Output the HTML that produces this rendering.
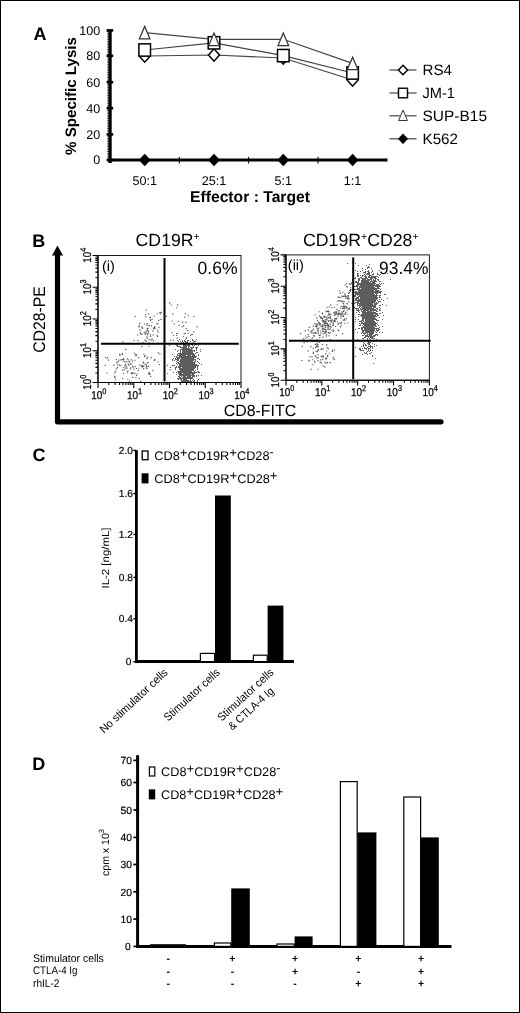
<!DOCTYPE html>
<html lang="en"><head><meta charset="utf-8"><title>Figure</title>
<style>html,body{margin:0;padding:0;background:#fff}svg{display:block}svg text{font-family:"Liberation Sans",Arial,Helvetica,sans-serif}</style>
</head><body>
<svg width="520" height="1013" viewBox="0 0 520 1013" fill="#000" text-rendering="geometricPrecision">
<rect x="0" y="0" width="520" height="1013" fill="#fff"/>
<g id="panelA">
<text x="33.4" y="40" font-size="18" font-weight="bold">A</text>
<line x1="110" y1="29.8" x2="110" y2="163" stroke="#000" stroke-width="3.4"/>
<line x1="108.5" y1="160" x2="387.5" y2="160" stroke="#000" stroke-width="3.2"/>
<line x1="107.9" y1="31" x2="107.9" y2="160" stroke="#000" stroke-width="1" stroke-dasharray="1.3 1.25"/>
<line x1="106.6" y1="160.00" x2="113.2" y2="160.00" stroke="#000" stroke-width="2.6"/>
<text x="100.3" y="164.3" font-size="12.6" text-anchor="end">0</text>
<line x1="106.6" y1="134.40" x2="113.2" y2="134.40" stroke="#000" stroke-width="2.6"/>
<text x="100.3" y="138.7" font-size="12.6" text-anchor="end">20</text>
<line x1="106.6" y1="108.20" x2="113.2" y2="108.20" stroke="#000" stroke-width="2.6"/>
<text x="100.3" y="112.5" font-size="12.6" text-anchor="end">40</text>
<line x1="106.6" y1="82.20" x2="113.2" y2="82.20" stroke="#000" stroke-width="2.6"/>
<text x="100.3" y="86.5" font-size="12.6" text-anchor="end">60</text>
<line x1="106.6" y1="55.80" x2="113.2" y2="55.80" stroke="#000" stroke-width="2.6"/>
<text x="100.3" y="60.1" font-size="12.6" text-anchor="end">80</text>
<line x1="106.6" y1="30.40" x2="113.2" y2="30.40" stroke="#000" stroke-width="2.6"/>
<text x="100.3" y="34.7" font-size="12.6" text-anchor="end">100</text>
<line x1="179.3" y1="156.8" x2="179.3" y2="163.6" stroke="#000" stroke-width="1"/>
<line x1="248.6" y1="156.8" x2="248.6" y2="163.6" stroke="#000" stroke-width="1"/>
<line x1="318" y1="156.8" x2="318" y2="163.6" stroke="#000" stroke-width="1"/>
<text x="144.7" y="185.2" font-size="12.6" text-anchor="middle">50:1</text>
<text x="214" y="185.2" font-size="12.6" text-anchor="middle">25:1</text>
<text x="283.3" y="185.2" font-size="12.6" text-anchor="middle">5:1</text>
<text x="352.6" y="185.2" font-size="12.6" text-anchor="middle">1:1</text>
<text x="250" y="202.2" font-size="15.6" font-weight="bold" text-anchor="middle" textLength="120" lengthAdjust="spacingAndGlyphs">Effector : Target</text>
<text x="76.4" y="96" font-size="15.2" font-weight="bold" text-anchor="middle" textLength="118" lengthAdjust="spacingAndGlyphs" transform="rotate(-90 76.4 96)">% Specific Lysis</text>
<polyline points="144.7,56 214,55 283.3,58 352.6,80" fill="none" stroke="#444" stroke-width="1.2"/>
<polyline points="144.7,50 214,42.8 283.3,55.6 352.6,73" fill="none" stroke="#444" stroke-width="1.2"/>
<polyline points="144.7,32.6 214,39.3 283.3,39.3 352.6,63.4" fill="none" stroke="#444" stroke-width="1.2"/>
<polygon points="144.7,49.8 150.2,56 144.7,62.2 139.2,56" fill="#fff" stroke="#000" stroke-width="1.5"/>
<polygon points="214,48.8 219.5,55 214,61.2 208.5,55" fill="#fff" stroke="#000" stroke-width="1.5"/>
<polygon points="283.3,51.8 288.8,58 283.3,64.2 277.8,58" fill="#fff" stroke="#000" stroke-width="1.5"/>
<polygon points="352.6,73.8 358.1,80 352.6,86.2 347.1,80" fill="#fff" stroke="#000" stroke-width="1.5"/>
<rect x="138.89999999999998" y="43.85" width="11.6" height="12.30" fill="#fff" stroke="#000" stroke-width="1.5"/>
<rect x="208.2" y="36.65" width="11.6" height="12.30" fill="#fff" stroke="#000" stroke-width="1.5"/>
<rect x="277.5" y="49.45" width="11.6" height="12.30" fill="#fff" stroke="#000" stroke-width="1.5"/>
<rect x="346.8" y="66.85" width="11.6" height="12.30" fill="#fff" stroke="#000" stroke-width="1.5"/>
<polygon points="144.7,26.400000000000002 150.0,38.800000000000004 139.39999999999998,38.800000000000004" fill="#fff" stroke="#333" stroke-width="1.25"/>
<polygon points="214,33.099999999999994 219.3,45.5 208.7,45.5" fill="#fff" stroke="#333" stroke-width="1.25"/>
<polygon points="283.3,33.099999999999994 288.6,45.5 278.0,45.5" fill="#fff" stroke="#333" stroke-width="1.25"/>
<polygon points="352.6,57.199999999999996 357.90000000000003,69.6 347.3,69.6" fill="#fff" stroke="#333" stroke-width="1.25"/>
<polygon points="144.7,153.9 150.29999999999998,160 144.7,166.1 139.1,160" fill="#000" stroke="#000" stroke-width="0.5"/>
<polygon points="214,153.9 219.6,160 214,166.1 208.4,160" fill="#000" stroke="#000" stroke-width="0.5"/>
<polygon points="283.3,153.9 288.90000000000003,160 283.3,166.1 277.7,160" fill="#000" stroke="#000" stroke-width="0.5"/>
<polygon points="352.6,153.9 358.20000000000005,160 352.6,166.1 347.0,160" fill="#000" stroke="#000" stroke-width="0.5"/>
<line x1="389.5" y1="70" x2="416.5" y2="70" stroke="#444" stroke-width="1.2"/>
<line x1="389.5" y1="93" x2="416.5" y2="93" stroke="#444" stroke-width="1.2"/>
<line x1="389.5" y1="115.8" x2="416.5" y2="115.8" stroke="#444" stroke-width="1.2"/>
<line x1="389.5" y1="138.8" x2="416.5" y2="138.8" stroke="#444" stroke-width="1.2"/>
<polygon points="403,65.2 407.6,70 403,74.8 398.4,70" fill="#fff" stroke="#000" stroke-width="1.4"/>
<rect x="398.5" y="88.23" width="9.0" height="9.54" fill="#fff" stroke="#000" stroke-width="1.4"/>
<polygon points="403,110.1 407.4,120.5 398.6,120.5" fill="#fff" stroke="#333" stroke-width="1"/>
<polygon points="403,133.8 407.8,138.8 403,143.8 398.2,138.8" fill="#000" stroke="#000" stroke-width="0.5"/>
<text x="422.5" y="74.9" font-size="15" textLength="29.5" lengthAdjust="spacingAndGlyphs">RS4</text>
<text x="422.5" y="97.9" font-size="15" textLength="32.5" lengthAdjust="spacingAndGlyphs">JM-1</text>
<text x="422.5" y="120.7" font-size="15" textLength="64.5" lengthAdjust="spacingAndGlyphs">SUP-B15</text>
<text x="422.5" y="143.7" font-size="15" textLength="35.5" lengthAdjust="spacingAndGlyphs">K562</text>
</g>
<g id="panelB">
<text x="32.2" y="247" font-size="18" font-weight="bold">B</text>
<path d="M57.5 254 V421.8 H441" fill="none" stroke="#000" stroke-width="5.2" stroke-linecap="round" stroke-linejoin="round"/>
<polygon points="57.5,245.5 63,255.5 52,255.5" fill="#000"/>
<text x="45.2" y="319.5" font-size="16.8" text-anchor="middle" textLength="66.6" lengthAdjust="spacingAndGlyphs" transform="rotate(-90 45.2 319.5)">CD28-PE</text>
<text x="223.8" y="415.6" font-size="16.3" textLength="72.3" lengthAdjust="spacingAndGlyphs">CD8-FITC</text>
<text x="135.6" y="246.2" font-size="17.7">CD19R<tspan font-size="10.5" dy="-6">+</tspan></text>
<text x="303" y="246.2" font-size="17.7">CD19R<tspan font-size="10.5" dy="-6">+</tspan><tspan dy="6">CD28</tspan><tspan font-size="10.5" dy="-6">+</tspan></text>
<clipPath id="clip1"><rect x="98.5" y="256.0" width="142" height="126"/></clipPath>
<g clip-path="url(#clip1)">
<path d="M187 330.5h1M176 333.5h2M185 333.5h1M188 333.5h1M191 334.5h2M173 335.5h1M176 335.5h1M190 335.5h1M183 336.5h1M186 337.5h1M186 338.5h1M179 339.5h1M185 339.5h1M192 339.5h1M196 339.5h1M173 340.5h1M177 340.5h1M182 340.5h1M184 340.5h1M187 340.5h2M192 340.5h2M178 341.5h1M180 341.5h1M182 341.5h1M184 341.5h2M187 341.5h1M190 341.5h1M194 341.5h2M183 342.5h1M185 342.5h3M193 342.5h1M179 343.5h1M182 343.5h1M184 343.5h2M187 343.5h1M189 343.5h1M193 343.5h1M177 344.5h1M179 344.5h1M183 344.5h3M188 344.5h1M190 344.5h3M195 344.5h2M169 345.5h1M176 345.5h2M183 345.5h7M192 345.5h1M194 345.5h1M198 345.5h1M177 346.5h4M183 346.5h4M188 346.5h2M193 346.5h1M181 347.5h6M188 347.5h1M190 347.5h2M193 347.5h1M195 347.5h3M182 348.5h8M191 348.5h2M196 348.5h1M175 349.5h1M180 349.5h12M196 349.5h1M200 349.5h1M178 350.5h1M180 350.5h1M182 350.5h13M196 350.5h1M177 351.5h1M180 351.5h1M182 351.5h11M194 351.5h1M200 351.5h1M180 352.5h1M182 352.5h11M196 352.5h2M178 353.5h16M195 353.5h1M172 354.5h1M177 354.5h1M179 354.5h16M198 354.5h1M177 355.5h9M187 355.5h4M192 355.5h3M198 355.5h1M174 356.5h1M176 356.5h1M179 356.5h18M176 357.5h20M173 358.5h1M175 358.5h1M177 358.5h3M181 358.5h13M197 358.5h2M172 359.5h1M175 359.5h4M180 359.5h16M199 359.5h1M172 360.5h1M174 360.5h1M177 360.5h2M180 360.5h14M195 360.5h1M176 361.5h1M179 361.5h14M194 361.5h2M197 361.5h1M177 362.5h2M180 362.5h15M198 362.5h1M176 363.5h1M178 363.5h17M199 363.5h1M177 364.5h1M179 364.5h18M201 364.5h1M172 365.5h3M179 365.5h20M176 366.5h1M178 366.5h18M197 366.5h1M175 367.5h2M178 367.5h3M182 367.5h14M197 367.5h1M175 368.5h1M179 368.5h16M197 368.5h1M175 369.5h1M179 369.5h15M197 369.5h1M180 370.5h14M195 370.5h1M177 371.5h15M194 371.5h1M197 371.5h2M173 372.5h1M176 372.5h1M178 372.5h19M198 372.5h2M167 373.5h1M178 373.5h4M183 373.5h12M176 374.5h1M179 374.5h12M192 374.5h2M179 375.5h16M196 375.5h1M198 375.5h1M201 375.5h1M178 376.5h2M181 376.5h1M183 376.5h3M187 376.5h4M192 376.5h3M196 376.5h1M179 377.5h2M182 377.5h11M177 378.5h16M178 379.5h1M180 379.5h2M183 379.5h4M190 379.5h1M193 379.5h1M198 379.5h1M181 380.5h8M190 380.5h1M192 380.5h1M194 380.5h1M197 380.5h1M181 381.5h11M193 381.5h2M197 381.5h1M181 382.5h6M188 382.5h1M190 382.5h2M193 382.5h2M179 383.5h1M181 383.5h1M185 383.5h4M190 383.5h2M182 384.5h4M187 384.5h4M192 384.5h1M195 384.5h1M199 384.5h1M174 385.5h1M176 385.5h1M180 385.5h2M184 385.5h3M188 385.5h1M190 385.5h1M194 385.5h1M173 386.5h1M182 386.5h1M184 386.5h3M189 386.5h1M184 387.5h6M192 387.5h1M194 387.5h1M197 387.5h1M180 388.5h3M185 388.5h1M190 388.5h1M182 389.5h1M185 389.5h1M177 390.5h1M186 390.5h2M178 391.5h1M187 391.5h1M193 391.5h1M177 392.5h1M183 392.5h1M187 392.5h2M190 392.5h1M194 392.5h1M185 393.5h1M178 395.5h1M187 395.5h1M195 397.5h1M193 402.5h1" stroke="#5e5e5e" stroke-width="1.0" fill="none" shape-rendering="crispEdges"/>
<path d="M157.4 332.1h1.2M140.1 333.8h1.2M160.3 319.3h1.2M150.6 339.9h1.2M153.1 328.6h1.2M158.4 327.1h1.2M149.9 336.4h1.2M144.6 334.3h1.2M146.6 323.6h1.2M139.1 323.3h1.2M150.9 325.8h1.2M156.3 335.2h1.2M137.4 340.6h1.2M145.4 332.3h1.2M158.0 320.3h1.2M171.5 321.2h1.2M147.7 331.3h1.2M147.0 334.7h1.2M149.2 317.5h1.2M148.5 339.6h1.2M132.9 344.3h1.2M148.7 325.6h1.2M141.9 328.4h1.2M160.7 312.4h1.2M145.2 316.8h1.2M149.9 334.7h1.2M154.1 327.3h1.2M150.0 320.5h1.2M159.3 312.6h1.2M156.6 313.7h1.2M143.7 332.5h1.2M147.9 313.8h1.2M139.7 333.7h1.2M134.5 316.3h1.2M156.9 336.5h1.2M149.9 317.4h1.2M149.6 319.2h1.2M151.5 319.4h1.2M159.8 314.0h1.2M157.0 330.2h1.2M154.1 326.6h1.2M154.4 328.5h1.2M141.2 327.1h1.2M147.3 328.3h1.2M142.3 342.6h1.2M146.6 333.6h1.2M144.7 333.9h1.2M145.0 314.7h1.2M148.6 343.0h1.2M151.5 322.2h1.2M133.3 340.5h1.2M144.5 340.4h1.2M156.3 324.1h1.2M146.5 338.2h1.2M138.3 326.9h1.2M146.9 330.4h1.2M146.8 328.4h1.2M143.9 324.0h1.2M145.6 331.4h1.2M141.7 327.9h1.2M152.6 335.0h1.2M141.4 334.4h1.2M146.5 336.8h1.2M145.7 310.1h1.2M139.4 329.9h1.2M151.6 339.1h1.2M148.0 332.9h1.2M138.6 325.9h1.2M146.7 329.0h1.2M152.8 328.0h1.2M153.5 316.0h1.2M141.3 346.6h1.2M136.9 335.0h1.2M146.5 325.4h1.2M152.8 340.9h1.2M145.7 341.3h1.2M139.8 332.2h1.2M157.3 323.5h1.2M152.2 330.8h1.2M148.4 346.2h1.2M126.2 361.8h1.2M126.3 368.1h1.2M148.0 366.4h1.2M122.0 370.1h1.2M143.3 354.0h1.2M143.9 356.6h1.2M154.3 359.2h1.2M114.2 372.8h1.2M133.4 369.0h1.2M146.0 366.1h1.2M130.7 373.6h1.2M131.0 364.0h1.2M126.7 358.8h1.2M146.7 368.2h1.2M132.0 361.3h1.2M125.1 349.3h1.2M137.0 383.8h1.2M132.0 373.7h1.2M128.6 361.6h1.2M115.1 371.3h1.2M130.0 369.1h1.2M133.9 353.4h1.2M134.3 373.4h1.2M136.0 375.5h1.2M143.9 356.7h1.2M134.8 354.7h1.2M123.9 369.7h1.2M148.7 372.8h1.2M130.2 367.7h1.2M114.8 379.2h1.2M123.1 359.6h1.2M152.3 370.6h1.2M124.9 364.2h1.2M119.2 354.3h1.2M141.2 384.1h1.2M93.4 355.9h1.2M132.1 377.3h1.2M124.4 365.3h1.2M135.9 368.5h1.2M157.7 352.7h1.2M145.6 368.1h1.2M118.3 360.1h1.2M115.8 359.6h1.2M132.5 367.2h1.2M122.2 341.8h1.2M159.3 353.9h1.2M127.2 379.2h1.2M129.9 363.8h1.2M123.2 367.6h1.2M130.7 359.9h1.2M116.1 362.6h1.2M107.0 357.8h1.2M148.0 373.6h1.2M125.7 366.4h1.2M143.0 363.0h1.2M124.4 361.7h1.2M150.1 376.3h1.2M149.0 373.4h1.2M141.3 365.0h1.2M143.0 368.8h1.2M166.4 382.2h1.2M138.2 369.0h1.2M179.0 373.5h1.2M127.7 364.1h1.2M145.7 366.6h1.2M128.9 381.1h1.2M134.3 360.2h1.2M142.1 366.1h1.2M137.4 370.7h1.2M135.4 377.7h1.2M106.3 373.0h1.2M137.9 357.6h1.2M116.8 367.6h1.2M145.4 364.6h1.2M125.1 368.0h1.2M150.6 357.6h1.2M121.7 353.6h1.2M114.3 376.3h1.2M132.1 366.3h1.2M121.8 354.3h1.2M117.5 361.6h1.2M128.5 365.4h1.2M107.9 360.1h1.2M142.0 366.8h1.2M119.0 365.1h1.2M129.0 361.8h1.2M120.3 359.9h1.2M135.9 354.9h1.2M127.8 360.0h1.2M142.6 362.2h1.2M123.3 361.2h1.2M144.5 355.6h1.2M105.2 357.6h1.2M142.6 362.0h1.2M131.0 373.0h1.2M132.3 372.6h1.2M149.3 374.5h1.2M114.1 377.3h1.2M143.1 366.4h1.2M157.4 362.0h1.2M166.6 365.3h1.2M146.3 358.6h1.2M139.1 365.0h1.2M115.7 368.7h1.2M135.4 355.6h1.2M140.2 381.4h1.2M113.4 365.4h1.2M169.8 367.5h1.2M169.6 369.9h1.2M121.7 359.6h1.2M122.9 358.8h1.2M154.0 360.4h1.2M145.7 366.7h1.2M122.2 378.5h1.2M126.9 372.7h1.2M147.6 362.5h1.2M127.2 371.1h1.2M140.8 366.3h1.2M138.6 378.6h1.2M144.4 364.0h1.2M134.5 366.6h1.2M158.8 364.5h1.2M146.8 357.1h1.2M120.5 365.7h1.2M123.1 373.5h1.2M136.3 374.0h1.2M146.9 362.8h1.2M117.1 364.9h1.2M104.6 365.4h1.2M119.4 355.5h1.2M193.1 316.7h1.2M176.9 304.8h1.2M171.5 332.7h1.2M179.6 347.3h1.2M184.8 313.7h1.2M169.0 302.8h1.2M176.7 338.1h1.2M187.8 315.7h1.2M185.7 328.5h1.2M187.5 330.5h1.2M193.1 331.9h1.2M181.6 326.6h1.2M183.1 325.9h1.2M182.0 322.3h1.2M170.3 340.1h1.2M184.0 317.2h1.2M196.5 326.9h1.2M170.7 305.0h1.2M176.2 307.7h1.2M172.2 313.8h1.2M178.1 321.2h1.2M181.1 342.7h1.2M185.3 322.4h1.2M183.6 333.8h1.2M165.7 316.3h1.2M191.8 347.8h1.2M178.4 325.4h1.2M173.6 323.8h1.2" stroke="#555" stroke-width="1.15" fill="none"/>
</g>
<rect x="98" y="255.5" width="143" height="127" fill="none" stroke="#1a1a1a" stroke-width="1"/>
<line x1="98" y1="255.5" x2="98" y2="382.5" stroke="#000" stroke-width="1.1"/>
<line x1="98" y1="382.5" x2="241" y2="382.5" stroke="#000" stroke-width="1.1"/>
<path d="M98.00 382.5v5.4M98 382.50h-5.4M108.76 382.5v2.6M98 372.94h-2.6M115.06 382.5v2.6M98 367.35h-2.6M119.52 382.5v2.6M98 363.38h-2.6M122.99 382.5v2.6M98 360.31h-2.6M125.82 382.5v2.6M98 357.79h-2.6M128.21 382.5v2.6M98 355.67h-2.6M130.29 382.5v2.6M98 353.83h-2.6M132.11 382.5v2.6M98 352.20h-2.6M133.75 382.5v5.4M98 350.75h-5.4M144.51 382.5v2.6M98 341.19h-2.6M150.81 382.5v2.6M98 335.60h-2.6M155.27 382.5v2.6M98 331.63h-2.6M158.74 382.5v2.6M98 328.56h-2.6M161.57 382.5v2.6M98 326.04h-2.6M163.96 382.5v2.6M98 323.92h-2.6M166.04 382.5v2.6M98 322.08h-2.6M167.86 382.5v2.6M98 320.45h-2.6M169.50 382.5v5.4M98 319.00h-5.4M180.26 382.5v2.6M98 309.44h-2.6M186.56 382.5v2.6M98 303.85h-2.6M191.02 382.5v2.6M98 299.88h-2.6M194.49 382.5v2.6M98 296.81h-2.6M197.32 382.5v2.6M98 294.29h-2.6M199.71 382.5v2.6M98 292.17h-2.6M201.79 382.5v2.6M98 290.33h-2.6M203.61 382.5v2.6M98 288.70h-2.6M205.25 382.5v5.4M98 287.25h-5.4M216.01 382.5v2.6M98 277.69h-2.6M222.31 382.5v2.6M98 272.10h-2.6M226.77 382.5v2.6M98 268.13h-2.6M230.24 382.5v2.6M98 265.06h-2.6M233.07 382.5v2.6M98 262.54h-2.6M235.46 382.5v2.6M98 260.42h-2.6M237.54 382.5v2.6M98 258.58h-2.6M239.36 382.5v2.6M98 256.95h-2.6M241.00 382.5v5.4M98 255.50h-5.4" stroke="#000" stroke-width="1.1" fill="none"/>
<text x="91.2" y="398.9" font-size="11.4" textLength="15.2" lengthAdjust="spacingAndGlyphs" stroke="#000" stroke-width="0.25">10<tspan font-size="8.4" dy="-4.8">0</tspan></text>
<text x="90.6" y="389.7" font-size="11.4" textLength="15" lengthAdjust="spacingAndGlyphs" stroke="#000" stroke-width="0.25" transform="rotate(-90 90.6 389.7)">10<tspan font-size="8.4" dy="-4.2">0</tspan></text>
<text x="127.0" y="398.9" font-size="11.4" textLength="15.2" lengthAdjust="spacingAndGlyphs" stroke="#000" stroke-width="0.25">10<tspan font-size="8.4" dy="-4.8">1</tspan></text>
<text x="90.6" y="357.9" font-size="11.4" textLength="15" lengthAdjust="spacingAndGlyphs" stroke="#000" stroke-width="0.25" transform="rotate(-90 90.6 357.9)">10<tspan font-size="8.4" dy="-4.2">1</tspan></text>
<text x="162.7" y="398.9" font-size="11.4" textLength="15.2" lengthAdjust="spacingAndGlyphs" stroke="#000" stroke-width="0.25">10<tspan font-size="8.4" dy="-4.8">2</tspan></text>
<text x="90.6" y="326.2" font-size="11.4" textLength="15" lengthAdjust="spacingAndGlyphs" stroke="#000" stroke-width="0.25" transform="rotate(-90 90.6 326.2)">10<tspan font-size="8.4" dy="-4.2">2</tspan></text>
<text x="198.5" y="398.9" font-size="11.4" textLength="15.2" lengthAdjust="spacingAndGlyphs" stroke="#000" stroke-width="0.25">10<tspan font-size="8.4" dy="-4.8">3</tspan></text>
<text x="90.6" y="294.4" font-size="11.4" textLength="15" lengthAdjust="spacingAndGlyphs" stroke="#000" stroke-width="0.25" transform="rotate(-90 90.6 294.4)">10<tspan font-size="8.4" dy="-4.2">3</tspan></text>
<text x="234.2" y="398.9" font-size="11.4" textLength="15.2" lengthAdjust="spacingAndGlyphs" stroke="#000" stroke-width="0.25">10<tspan font-size="8.4" dy="-4.8">4</tspan></text>
<text x="90.6" y="262.7" font-size="11.4" textLength="15" lengthAdjust="spacingAndGlyphs" stroke="#000" stroke-width="0.25" transform="rotate(-90 90.6 262.7)">10<tspan font-size="8.4" dy="-4.2">4</tspan></text>
<line x1="164.5" y1="258.0" x2="164.5" y2="381.5" stroke="#000" stroke-width="2"/>
<line x1="101" y1="343.8" x2="238.8" y2="343.8" stroke="#000" stroke-width="2"/>
<text x="101.9" y="270.6" font-size="14.5">(i)</text>
<text x="237.6" y="274.3" font-size="17.8" text-anchor="end" textLength="40" lengthAdjust="spacingAndGlyphs">0.6%</text>
<clipPath id="clip2"><rect x="286.5" y="255.4" width="142.4" height="124.3"/></clipPath>
<g clip-path="url(#clip2)">
<path d="M347 263.5h1M355 263.5h1M369 264.5h1M358 265.5h1M366 265.5h1M368 266.5h1M367 267.5h3M362 268.5h1M367 268.5h1M371 268.5h1M365 269.5h1M355 270.5h1M362 270.5h1M368 270.5h1M372 270.5h1M379 270.5h1M357 271.5h1M360 271.5h1M365 271.5h1M367 271.5h2M372 271.5h1M363 272.5h3M368 272.5h2M371 272.5h1M357 273.5h2M365 273.5h1M367 273.5h3M373 273.5h1M377 273.5h1M387 273.5h1M353 274.5h1M357 274.5h1M364 274.5h1M366 274.5h4M372 274.5h2M377 274.5h2M380 274.5h1M357 275.5h2M360 275.5h1M362 275.5h2M365 275.5h1M369 275.5h3M379 275.5h1M357 276.5h2M362 276.5h1M364 276.5h3M368 276.5h2M371 276.5h7M355 277.5h1M360 277.5h2M365 277.5h2M368 277.5h8M378 277.5h1M354 278.5h2M358 278.5h2M361 278.5h7M370 278.5h3M374 278.5h3M352 279.5h1M358 279.5h2M362 279.5h4M367 279.5h5M373 279.5h1M375 279.5h1M377 279.5h2M390 279.5h1M358 280.5h2M361 280.5h9M371 280.5h1M373 280.5h3M378 280.5h1M355 281.5h2M358 281.5h1M361 281.5h8M370 281.5h7M379 281.5h2M355 282.5h4M361 282.5h10M372 282.5h3M346 283.5h1M357 283.5h19M379 283.5h1M381 283.5h1M383 283.5h1M350 284.5h1M357 284.5h18M376 284.5h3M380 284.5h1M356 285.5h3M360 285.5h20M346 286.5h1M354 286.5h4M359 286.5h15M375 286.5h6M357 287.5h1M359 287.5h16M377 287.5h2M357 288.5h3M361 288.5h19M350 289.5h1M354 289.5h23M380 289.5h1M349 290.5h2M352 290.5h1M358 290.5h16M375 290.5h4M350 291.5h1M355 291.5h2M358 291.5h24M349 292.5h1M354 292.5h27M348 293.5h1M355 293.5h19M375 293.5h3M380 293.5h1M355 294.5h20M376 294.5h1M384 294.5h2M353 295.5h3M357 295.5h1M359 295.5h19M379 295.5h2M354 296.5h2M358 296.5h19M379 296.5h1M356 297.5h3M360 297.5h18M379 297.5h2M347 298.5h1M349 298.5h1M355 298.5h4M360 298.5h18M387 298.5h1M355 299.5h2M358 299.5h19M379 299.5h1M381 299.5h1M355 300.5h21M377 300.5h1M383 300.5h1M357 301.5h19M378 301.5h3M355 302.5h4M360 302.5h15M376 302.5h1M378 302.5h1M354 303.5h1M357 303.5h16M374 303.5h4M357 304.5h1M359 304.5h14M374 304.5h3M382 304.5h1M352 305.5h1M357 305.5h19M379 305.5h2M386 305.5h1M359 306.5h2M362 306.5h14M354 307.5h1M359 307.5h1M361 307.5h11M373 307.5h3M379 307.5h1M355 308.5h4M360 308.5h1M362 308.5h12M376 308.5h2M380 308.5h1M356 309.5h1M358 309.5h1M360 309.5h16M377 309.5h1M379 309.5h1M356 310.5h4M361 310.5h1M363 310.5h6M370 310.5h7M379 310.5h2M358 311.5h1M361 311.5h5M367 311.5h5M373 311.5h1M376 311.5h2M356 312.5h1M359 312.5h1M362 312.5h14M382 312.5h1M353 313.5h1M362 313.5h16M379 313.5h2M358 314.5h2M361 314.5h13M375 314.5h3M360 315.5h16M377 315.5h2M383 315.5h1M353 316.5h1M358 316.5h1M361 316.5h16M355 317.5h1M362 317.5h13M379 317.5h1M362 318.5h14M355 319.5h1M358 319.5h1M362 319.5h2M365 319.5h12M382 319.5h1M361 320.5h3M365 320.5h9M376 320.5h3M355 321.5h1M359 321.5h3M363 321.5h1M365 321.5h10M361 322.5h2M364 322.5h12M377 322.5h1M359 323.5h1M361 323.5h16M360 324.5h1M363 324.5h13M377 324.5h1M359 325.5h2M362 325.5h1M364 325.5h12M378 325.5h1M363 326.5h11M375 326.5h2M382 326.5h1M361 327.5h14M379 327.5h1M358 328.5h2M361 328.5h2M364 328.5h15M355 329.5h1M361 329.5h2M364 329.5h11M376 329.5h1M378 329.5h2M353 330.5h1M362 330.5h13M376 330.5h3M362 331.5h2M365 331.5h9M375 331.5h1M377 331.5h1M357 332.5h1M362 332.5h2M365 332.5h9M376 332.5h1M379 332.5h1M382 332.5h1M361 333.5h1M363 333.5h3M367 333.5h1M369 333.5h5M364 334.5h1M367 334.5h6M375 334.5h3M362 335.5h2M365 335.5h3M369 335.5h3M373 335.5h3M377 335.5h1M365 336.5h10M364 337.5h2M368 337.5h1M370 337.5h3M362 338.5h2M367 338.5h1M369 338.5h1M371 338.5h4M357 339.5h1M367 339.5h1M370 339.5h1M376 339.5h1M362 340.5h1M365 340.5h1M367 340.5h1M370 340.5h2M378 340.5h1M367 341.5h2M373 341.5h1M363 342.5h1M368 342.5h3M364 343.5h1M367 343.5h3M372 343.5h1M363 344.5h1M365 344.5h1M368 344.5h2M374 344.5h1M363 345.5h1M365 345.5h2M370 345.5h1M376 345.5h1M361 346.5h1M363 346.5h1M368 346.5h5M374 346.5h1M355 347.5h1M364 347.5h1M367 347.5h1M370 347.5h1M372 347.5h1M359 348.5h2M362 348.5h1M364 348.5h3M368 348.5h2M372 348.5h1M359 349.5h2M366 349.5h1M368 349.5h1M370 349.5h1M360 350.5h4M368 350.5h1M370 350.5h1M372 350.5h1M367 351.5h1M369 351.5h1M364 352.5h1M366 352.5h1M371 352.5h1M365 353.5h2M369 353.5h2M362 354.5h1M367 354.5h1M372 355.5h1M355 356.5h1M372 356.5h1M375 358.5h1M373 363.5h1" stroke="#5e5e5e" stroke-width="1.0" fill="none" shape-rendering="crispEdges"/>
<path d="M314.8 344.5h1.2M314.4 332.4h1.2M340.3 323.4h1.2M323.8 317.2h1.2M318.8 315.8h1.2M321.7 328.1h1.2M335.0 326.5h1.2M326.1 329.9h1.2M327.4 310.9h1.2M332.7 322.9h1.2M313.3 340.7h1.2M334.7 321.4h1.2M313.3 335.6h1.2M326.9 323.3h1.2M316.1 325.2h1.2M335.3 318.4h1.2M322.0 331.5h1.2M324.5 327.7h1.2M308.4 336.5h1.2M337.7 330.4h1.2M316.8 328.9h1.2M336.7 304.7h1.2M326.1 334.7h1.2M328.0 317.9h1.2M334.0 312.7h1.2M334.2 319.1h1.2M312.8 329.3h1.2M328.2 325.0h1.2M328.7 333.4h1.2M332.1 325.5h1.2M311.6 330.9h1.2M331.3 321.2h1.2M329.7 314.7h1.2M326.3 319.8h1.2M342.7 303.4h1.2M303.5 342.6h1.2M322.3 337.1h1.2M317.7 333.1h1.2M322.6 333.9h1.2M339.6 314.4h1.2M315.5 332.8h1.2M322.3 329.5h1.2M327.9 321.3h1.2M324.7 329.9h1.2M328.5 307.0h1.2M337.2 316.7h1.2M327.4 327.4h1.2M318.8 322.5h1.2M322.0 331.3h1.2M325.7 323.2h1.2M317.0 320.4h1.2M319.2 337.6h1.2M312.0 337.8h1.2M315.2 325.0h1.2M335.7 311.6h1.2M319.9 323.8h1.2M336.4 309.4h1.2M312.7 326.1h1.2M338.0 313.1h1.2M333.4 320.8h1.2M328.5 329.5h1.2M326.9 324.1h1.2M310.2 339.1h1.2M349.1 307.9h1.2M316.7 344.1h1.2M330.0 305.1h1.2M328.0 324.7h1.2M321.7 319.9h1.2M329.8 332.7h1.2M332.7 330.0h1.2M335.6 335.4h1.2M328.5 311.8h1.2M315.6 326.9h1.2M327.5 328.6h1.2M327.9 320.9h1.2M334.3 312.0h1.2M326.8 325.7h1.2M317.6 328.9h1.2M329.7 339.6h1.2M340.1 308.2h1.2M328.4 313.6h1.2M325.0 322.0h1.2M339.5 313.3h1.2M318.5 335.3h1.2M311.1 332.6h1.2M343.0 316.4h1.2M327.3 315.8h1.2M324.1 316.0h1.2M328.0 311.6h1.2M316.2 317.8h1.2M317.3 344.6h1.2M331.5 320.4h1.2M326.7 311.5h1.2M344.2 306.2h1.2M323.7 322.4h1.2M330.3 327.2h1.2M335.6 313.1h1.2M330.5 321.1h1.2M315.1 326.5h1.2M318.4 324.2h1.2M324.4 325.2h1.2M305.2 336.0h1.2M332.6 324.0h1.2M326.5 307.2h1.2M306.7 337.3h1.2M328.4 314.9h1.2M325.2 311.0h1.2M316.3 326.6h1.2M344.7 313.7h1.2M325.1 331.2h1.2M318.5 323.4h1.2M314.3 314.7h1.2M324.1 332.6h1.2M310.9 341.5h1.2M311.3 330.6h1.2M324.7 327.2h1.2M325.2 321.4h1.2M322.2 326.3h1.2M320.1 330.7h1.2M320.9 326.3h1.2M319.3 324.9h1.2M329.4 317.3h1.2M307.7 334.6h1.2M313.9 341.5h1.2M315.8 346.3h1.2M334.9 313.9h1.2M318.3 328.0h1.2M328.1 326.7h1.2M328.6 326.3h1.2M331.2 330.2h1.2M322.1 328.3h1.2M311.1 331.0h1.2M323.9 323.6h1.2M316.4 346.9h1.2M304.8 330.8h1.2M314.7 333.5h1.2M335.7 313.7h1.2M320.3 316.8h1.2M335.9 318.2h1.2M320.4 326.2h1.2M331.4 319.5h1.2M330.2 326.4h1.2M320.4 317.1h1.2M337.6 324.2h1.2M316.0 343.8h1.2M320.7 318.5h1.2M321.8 320.5h1.2M328.4 335.7h1.2M330.6 322.2h1.2M329.8 324.0h1.2M322.7 340.5h1.2M326.6 323.6h1.2M330.3 314.2h1.2M325.9 332.1h1.2M333.7 315.5h1.2M326.1 311.7h1.2M344.2 323.2h1.2M327.2 325.5h1.2M333.0 329.9h1.2M342.6 306.9h1.2M319.0 342.2h1.2M333.2 312.8h1.2M329.8 318.4h1.2M324.1 321.1h1.2M323.2 328.9h1.2M308.7 327.3h1.2M329.7 329.0h1.2M323.0 317.1h1.2M321.8 318.4h1.2M322.5 320.5h1.2M334.2 318.7h1.2M337.6 313.0h1.2M336.0 318.9h1.2M314.2 323.5h1.2M317.1 331.1h1.2M325.4 331.8h1.2M311.5 341.4h1.2M325.6 336.1h1.2M316.8 324.8h1.2M309.7 331.7h1.2M312.7 333.4h1.2M332.8 331.5h1.2M333.8 321.5h1.2M334.1 320.5h1.2M331.4 307.6h1.2M324.7 333.5h1.2M329.8 316.8h1.2M323.2 331.3h1.2M341.5 311.8h1.2M325.1 317.0h1.2M318.5 311.7h1.2M323.1 325.0h1.2M326.2 323.5h1.2M321.9 324.8h1.2M322.8 321.5h1.2M321.8 313.8h1.2M317.9 322.0h1.2M324.8 325.8h1.2M307.7 329.9h1.2M345.8 318.7h1.2M322.0 313.0h1.2M326.4 318.9h1.2M326.2 317.5h1.2M316.3 323.9h1.2M335.0 318.9h1.2M322.4 320.7h1.2M320.2 318.0h1.2M302.6 338.9h1.2M343.2 310.8h1.2M344.2 307.4h1.2M340.3 318.2h1.2M320.2 332.8h1.2M327.8 332.3h1.2M317.7 330.6h1.2M325.1 323.6h1.2M322.3 321.9h1.2M343.9 319.0h1.2M336.6 314.4h1.2M324.2 329.5h1.2M334.4 314.9h1.2M334.0 307.2h1.2M347.0 323.0h1.2M332.7 325.2h1.2M324.6 319.6h1.2M300.1 333.6h1.2M329.5 320.5h1.2M319.8 317.5h1.2M313.6 336.1h1.2M304.6 338.2h1.2M326.0 325.6h1.2M342.4 316.5h1.2M337.6 297.1h1.2M337.8 310.7h1.2M339.8 293.4h1.2M346.3 303.5h1.2M350.0 287.7h1.2M339.7 300.7h1.2M351.3 289.5h1.2M342.0 308.1h1.2M347.7 296.9h1.2M339.0 313.8h1.2M337.7 323.6h1.2M342.5 308.2h1.2M347.8 308.6h1.2M343.1 306.1h1.2M347.2 295.9h1.2M345.2 312.3h1.2M344.4 320.1h1.2M348.2 301.8h1.2M338.5 300.5h1.2M340.8 301.4h1.2M348.9 283.8h1.2M340.9 313.9h1.2M342.0 301.4h1.2M346.2 307.5h1.2M345.3 298.3h1.2M336.7 321.7h1.2M340.6 315.5h1.2M344.8 295.4h1.2M343.7 308.8h1.2M344.2 314.1h1.2M339.2 323.0h1.2M342.8 306.3h1.2M351.5 282.3h1.2M341.7 313.4h1.2M350.8 283.4h1.2M343.0 320.1h1.2M338.8 310.8h1.2M338.8 297.5h1.2M338.3 330.5h1.2M342.5 296.4h1.2M339.8 326.9h1.2M345.5 308.3h1.2M346.0 283.5h1.2M347.7 295.5h1.2M343.1 303.8h1.2M345.6 306.5h1.2M347.8 298.2h1.2M346.8 310.2h1.2M340.4 316.7h1.2M341.2 322.2h1.2M340.6 306.3h1.2M347.2 299.1h1.2M344.6 285.0h1.2M337.1 301.1h1.2M341.9 313.7h1.2M343.0 308.5h1.2M335.8 312.1h1.2M346.2 297.0h1.2M343.5 301.5h1.2M342.1 292.2h1.2M341.6 296.1h1.2M338.2 313.9h1.2M340.5 297.2h1.2M343.0 311.6h1.2M346.6 303.9h1.2M349.0 309.4h1.2M351.3 303.4h1.2M337.7 314.9h1.2M343.6 296.3h1.2M339.1 291.0h1.2M348.5 292.6h1.2M346.7 287.0h1.2M346.4 314.2h1.2M344.3 293.8h1.2M340.8 325.2h1.2M345.1 296.6h1.2M343.2 296.2h1.2M342.6 315.1h1.2M342.1 333.6h1.2M334.0 359.2h1.2M320.6 356.3h1.2M327.0 356.4h1.2M317.5 333.5h1.2M310.4 369.3h1.2M329.8 362.6h1.2M321.1 349.1h1.2M316.2 357.8h1.2M328.7 353.2h1.2M326.1 344.9h1.2M320.4 349.4h1.2M308.4 360.4h1.2M317.4 354.8h1.2M325.3 353.8h1.2M312.6 348.5h1.2M301.7 346.3h1.2M317.5 346.6h1.2M332.7 357.2h1.2M317.3 341.9h1.2M341.6 340.5h1.2M314.3 362.2h1.2M325.2 358.1h1.2M319.7 335.1h1.2M316.7 351.6h1.2M310.3 346.6h1.2M331.8 351.5h1.2M326.1 351.0h1.2M322.0 359.1h1.2M329.7 340.2h1.2M312.3 364.7h1.2M323.0 356.8h1.2M316.3 345.7h1.2M312.2 359.7h1.2M306.8 342.0h1.2M312.9 353.3h1.2M326.6 347.9h1.2M320.9 362.8h1.2M332.7 358.8h1.2M320.1 359.9h1.2M322.5 365.9h1.2M327.0 362.4h1.2M312.0 340.7h1.2M313.9 361.4h1.2M311.3 356.8h1.2M309.0 340.5h1.2M325.9 345.2h1.2M322.6 348.9h1.2M327.1 355.6h1.2M315.5 351.2h1.2M316.0 339.8h1.2M312.8 352.2h1.2M326.2 358.2h1.2M317.5 357.9h1.2M315.1 356.4h1.2M321.9 344.5h1.2M325.3 359.1h1.2M317.5 360.5h1.2M324.6 362.1h1.2M333.9 350.0h1.2M317.5 369.2h1.2M308.6 361.0h1.2M324.3 366.9h1.2M319.6 362.3h1.2M332.0 350.3h1.2M307.5 351.1h1.2M317.5 350.4h1.2M321.3 356.6h1.2M314.8 347.6h1.2M309.2 356.5h1.2M317.7 349.4h1.2M322.2 355.9h1.2M327.8 348.7h1.2M325.6 363.4h1.2M301.1 360.5h1.2M314.4 355.7h1.2" stroke="#555" stroke-width="1.15" fill="none"/>
</g>
<rect x="286" y="254.9" width="143.4" height="125.3" fill="none" stroke="#1a1a1a" stroke-width="1"/>
<line x1="286" y1="254.9" x2="286" y2="380.2" stroke="#000" stroke-width="1.1"/>
<line x1="286" y1="380.2" x2="429.4" y2="380.2" stroke="#000" stroke-width="1.1"/>
<path d="M286.00 380.2v5.4M286 380.20h-5.4M296.79 380.2v2.6M286 370.77h-2.6M303.10 380.2v2.6M286 365.25h-2.6M307.58 380.2v2.6M286 361.34h-2.6M311.06 380.2v2.6M286 358.30h-2.6M313.90 380.2v2.6M286 355.82h-2.6M316.30 380.2v2.6M286 353.73h-2.6M318.38 380.2v2.6M286 351.91h-2.6M320.21 380.2v2.6M286 350.31h-2.6M321.85 380.2v5.4M286 348.88h-5.4M332.64 380.2v2.6M286 339.45h-2.6M338.95 380.2v2.6M286 333.93h-2.6M343.43 380.2v2.6M286 330.02h-2.6M346.91 380.2v2.6M286 326.98h-2.6M349.75 380.2v2.6M286 324.50h-2.6M352.15 380.2v2.6M286 322.40h-2.6M354.23 380.2v2.6M286 320.59h-2.6M356.06 380.2v2.6M286 318.98h-2.6M357.70 380.2v5.4M286 317.55h-5.4M368.49 380.2v2.6M286 308.12h-2.6M374.80 380.2v2.6M286 302.60h-2.6M379.28 380.2v2.6M286 298.69h-2.6M382.76 380.2v2.6M286 295.65h-2.6M385.60 380.2v2.6M286 293.17h-2.6M388.00 380.2v2.6M286 291.08h-2.6M390.08 380.2v2.6M286 289.26h-2.6M391.91 380.2v2.6M286 287.66h-2.6M393.55 380.2v5.4M286 286.23h-5.4M404.34 380.2v2.6M286 276.80h-2.6M410.65 380.2v2.6M286 271.28h-2.6M415.13 380.2v2.6M286 267.37h-2.6M418.61 380.2v2.6M286 264.33h-2.6M421.45 380.2v2.6M286 261.85h-2.6M423.85 380.2v2.6M286 259.75h-2.6M425.93 380.2v2.6M286 257.94h-2.6M427.76 380.2v2.6M286 256.33h-2.6M429.40 380.2v5.4M286 254.90h-5.4" stroke="#000" stroke-width="1.1" fill="none"/>
<text x="279.2" y="395.9" font-size="11.4" textLength="15.2" lengthAdjust="spacingAndGlyphs" stroke="#000" stroke-width="0.25">10<tspan font-size="8.4" dy="-4.8">0</tspan></text>
<text x="278.6" y="387.4" font-size="11.4" textLength="15" lengthAdjust="spacingAndGlyphs" stroke="#000" stroke-width="0.25" transform="rotate(-90 278.6 387.4)">10<tspan font-size="8.4" dy="-4.2">0</tspan></text>
<text x="315.1" y="395.9" font-size="11.4" textLength="15.2" lengthAdjust="spacingAndGlyphs" stroke="#000" stroke-width="0.25">10<tspan font-size="8.4" dy="-4.8">1</tspan></text>
<text x="278.6" y="356.1" font-size="11.4" textLength="15" lengthAdjust="spacingAndGlyphs" stroke="#000" stroke-width="0.25" transform="rotate(-90 278.6 356.1)">10<tspan font-size="8.4" dy="-4.2">1</tspan></text>
<text x="350.9" y="395.9" font-size="11.4" textLength="15.2" lengthAdjust="spacingAndGlyphs" stroke="#000" stroke-width="0.25">10<tspan font-size="8.4" dy="-4.8">2</tspan></text>
<text x="278.6" y="324.8" font-size="11.4" textLength="15" lengthAdjust="spacingAndGlyphs" stroke="#000" stroke-width="0.25" transform="rotate(-90 278.6 324.8)">10<tspan font-size="8.4" dy="-4.2">2</tspan></text>
<text x="386.8" y="395.9" font-size="11.4" textLength="15.2" lengthAdjust="spacingAndGlyphs" stroke="#000" stroke-width="0.25">10<tspan font-size="8.4" dy="-4.8">3</tspan></text>
<text x="278.6" y="293.4" font-size="11.4" textLength="15" lengthAdjust="spacingAndGlyphs" stroke="#000" stroke-width="0.25" transform="rotate(-90 278.6 293.4)">10<tspan font-size="8.4" dy="-4.2">3</tspan></text>
<text x="422.6" y="395.9" font-size="11.4" textLength="15.2" lengthAdjust="spacingAndGlyphs" stroke="#000" stroke-width="0.25">10<tspan font-size="8.4" dy="-4.8">4</tspan></text>
<text x="278.6" y="262.1" font-size="11.4" textLength="15" lengthAdjust="spacingAndGlyphs" stroke="#000" stroke-width="0.25" transform="rotate(-90 278.6 262.1)">10<tspan font-size="8.4" dy="-4.2">4</tspan></text>
<line x1="353.2" y1="257.4" x2="353.2" y2="379.2" stroke="#000" stroke-width="2"/>
<line x1="289" y1="340.7" x2="430.59999999999997" y2="340.7" stroke="#000" stroke-width="2"/>
<text x="287.8" y="270.0" font-size="14.5">(ii)</text>
<text x="428.4" y="273.7" font-size="17.8" text-anchor="end" textLength="49.3" lengthAdjust="spacingAndGlyphs">93.4%</text>
</g>
<g id="panelC">
<text x="32.4" y="461.2" font-size="18" font-weight="bold">C</text>
<line x1="136.4" y1="450.2" x2="136.4" y2="663.1" stroke="#000" stroke-width="2.8"/>
<line x1="135.0" y1="661.6" x2="294" y2="661.6" stroke="#000" stroke-width="3"/>
<line x1="133.4" y1="661.70" x2="136.4" y2="661.70" stroke="#000" stroke-width="1.5"/>
<text x="131.4" y="665.3" font-size="10.2" text-anchor="end" stroke="#000" stroke-width="0.18">0</text>
<line x1="133.4" y1="618.70" x2="136.4" y2="618.70" stroke="#000" stroke-width="1.5"/>
<text x="133" y="622.3" font-size="10.2" text-anchor="end" stroke="#000" stroke-width="0.18">0.4</text>
<line x1="133.4" y1="577.40" x2="136.4" y2="577.40" stroke="#000" stroke-width="1.5"/>
<text x="133" y="581.0" font-size="10.2" text-anchor="end" stroke="#000" stroke-width="0.18">0.8</text>
<line x1="133.4" y1="534.40" x2="136.4" y2="534.40" stroke="#000" stroke-width="1.5"/>
<text x="133" y="538.0" font-size="10.2" text-anchor="end" stroke="#000" stroke-width="0.18">1.2</text>
<line x1="133.4" y1="493.60" x2="136.4" y2="493.60" stroke="#000" stroke-width="1.5"/>
<text x="133" y="497.2" font-size="10.2" text-anchor="end" stroke="#000" stroke-width="0.18">1.6</text>
<line x1="133.4" y1="450.40" x2="136.4" y2="450.40" stroke="#000" stroke-width="1.5"/>
<text x="133" y="454.0" font-size="10.2" text-anchor="end" stroke="#000" stroke-width="0.18">2.0</text>
<text x="109.4" y="558" font-size="10.3" text-anchor="middle" textLength="61" lengthAdjust="spacingAndGlyphs" transform="rotate(-90 109.4 558)">IL-2 [ng/mL]</text>
<rect x="200.4" y="653.4" width="14.200000000000001" height="8.200000000000069" fill="#fff" stroke="#000" stroke-width="1.2"/>
<rect x="215" y="495.5" width="15.8" height="166.10000000000002" fill="#000"/>
<rect x="253.4" y="655.2" width="13.8" height="6.4" fill="#fff" stroke="#000" stroke-width="1.2"/>
<rect x="267.6" y="605.6" width="15.8" height="56.0" fill="#000"/>
<rect x="142.2" y="451" width="5.8" height="8.7" fill="#fff" stroke="#000" stroke-width="1.3"/>
<rect x="141.6" y="473.3" width="6.9" height="10.1" fill="#000"/>
<text x="154.3" y="460.2" font-size="12.5" textLength="119.5" lengthAdjust="spacingAndGlyphs">CD8<tspan font-size="13" dy="-3.0">+</tspan><tspan dy="3.0">CD19R</tspan><tspan font-size="13" dy="-3.0">+</tspan><tspan dy="3.0">CD28</tspan><tspan dy="-4.4">-</tspan></text>
<text x="154.3" y="483" font-size="12.5" textLength="123.3" lengthAdjust="spacingAndGlyphs">CD8<tspan font-size="13" dy="-3.0">+</tspan><tspan dy="3.0">CD19R</tspan><tspan font-size="13" dy="-3.0">+</tspan><tspan dy="3.0">CD28</tspan><tspan font-size="13" dy="-3.0">+</tspan></text>
<text x="168.5" y="673.5" font-size="11.3" text-anchor="end" textLength="88.3" lengthAdjust="spacingAndGlyphs" transform="rotate(-43 168.5 673.5)">No stimulator cells</text>
<text x="220.7" y="673.4" font-size="11.3" text-anchor="end" textLength="71.5" lengthAdjust="spacingAndGlyphs" transform="rotate(-42.5 220.7 673.4)">Stimulator cells</text>
<text x="274.4" y="673.4" font-size="11.3" text-anchor="end" textLength="71.5" lengthAdjust="spacingAndGlyphs" transform="rotate(-42.5 274.4 673.4)">Stimulator cells</text>
<text x="274.7" y="692" font-size="11.3" text-anchor="end" textLength="57.5" lengthAdjust="spacingAndGlyphs" transform="rotate(-42.5 274.7 692)">&amp; CTLA-4 Ig</text>
</g>
<g id="panelD">
<text x="32.2" y="770" font-size="18" font-weight="bold">D</text>
<line x1="137.6" y1="755.2" x2="137.6" y2="947.9" stroke="#000" stroke-width="3"/>
<line x1="136.1" y1="946.4" x2="451.5" y2="946.4" stroke="#000" stroke-width="3"/>
<line x1="133.4" y1="946.4" x2="137.6" y2="946.4" stroke="#000" stroke-width="1.7"/>
<text x="130.9" y="950.1" font-size="10.4" text-anchor="end" stroke="#000" stroke-width="0.18">0</text>
<line x1="133.4" y1="919.1" x2="137.6" y2="919.1" stroke="#000" stroke-width="1.7"/>
<text x="132.1" y="922.8" font-size="10.4" text-anchor="end" stroke="#000" stroke-width="0.18">10</text>
<line x1="133.4" y1="891.8" x2="137.6" y2="891.8" stroke="#000" stroke-width="1.7"/>
<text x="132.1" y="895.5" font-size="10.4" text-anchor="end" stroke="#000" stroke-width="0.18">20</text>
<line x1="133.4" y1="864.5" x2="137.6" y2="864.5" stroke="#000" stroke-width="1.7"/>
<text x="132.1" y="868.2" font-size="10.4" text-anchor="end" stroke="#000" stroke-width="0.18">30</text>
<line x1="133.4" y1="837.4" x2="137.6" y2="837.4" stroke="#000" stroke-width="1.7"/>
<text x="132.1" y="841.1" font-size="10.4" text-anchor="end" stroke="#000" stroke-width="0.18">40</text>
<line x1="133.4" y1="810" x2="137.6" y2="810" stroke="#000" stroke-width="1.7"/>
<text x="132.1" y="813.7" font-size="10.4" text-anchor="end" stroke="#000" stroke-width="0.18">50</text>
<line x1="133.4" y1="782.5" x2="137.6" y2="782.5" stroke="#000" stroke-width="1.7"/>
<text x="132.1" y="786.2" font-size="10.4" text-anchor="end" stroke="#000" stroke-width="0.18">60</text>
<line x1="133.4" y1="760.4" x2="137.6" y2="760.4" stroke="#000" stroke-width="1.7"/>
<text x="132.1" y="764.1" font-size="10.4" text-anchor="end" stroke="#000" stroke-width="0.18">70</text>
<text x="109.2" y="852.5" font-size="10.5" text-anchor="middle" transform="rotate(-90 109.2 852.5)" textLength="47" lengthAdjust="spacingAndGlyphs">cpm x 10<tspan font-size="7.5" dy="-5.2">3</tspan></text>
<rect x="150" y="944.2" width="36" height="2" fill="#000"/>
<rect x="214.4" y="943.0" width="16.400000000000002" height="3.4" fill="#fff" stroke="#000" stroke-width="1.2"/>
<rect x="231.2" y="888.4" width="18.6" height="58.0" fill="#000"/>
<rect x="277.0" y="944.0" width="17.2" height="2.4" fill="#fff" stroke="#000" stroke-width="1.2"/>
<rect x="294.6" y="936.4" width="18" height="10.0" fill="#000"/>
<rect x="340.40000000000003" y="781.6" width="16.8" height="164.79999999999998" fill="#fff" stroke="#000" stroke-width="1.2"/>
<rect x="357.6" y="832.4" width="18.8" height="114.0" fill="#000"/>
<rect x="403.8" y="797.0" width="16.8" height="149.4" fill="#fff" stroke="#000" stroke-width="1.2"/>
<rect x="421" y="837.4" width="17.8" height="109.0" fill="#000"/>
<rect x="149.4" y="767" width="5.4" height="9" fill="#fff" stroke="#000" stroke-width="1.2"/>
<rect x="148.8" y="789.4" width="6.4" height="10" fill="#000"/>
<text x="161" y="776.2" font-size="12.5" textLength="119.5" lengthAdjust="spacingAndGlyphs">CD8<tspan font-size="13" dy="-3.0">+</tspan><tspan dy="3.0">CD19R</tspan><tspan font-size="13" dy="-3.0">+</tspan><tspan dy="3.0">CD28</tspan><tspan dy="-4.4">-</tspan></text>
<text x="161" y="799.2" font-size="12.5" textLength="122.2" lengthAdjust="spacingAndGlyphs">CD8<tspan font-size="13" dy="-3.0">+</tspan><tspan dy="3.0">CD19R</tspan><tspan font-size="13" dy="-3.0">+</tspan><tspan dy="3.0">CD28</tspan><tspan font-size="13" dy="-3.0">+</tspan></text>
<text x="33" y="961.8" font-size="11" textLength="70.8" lengthAdjust="spacingAndGlyphs">Stimulator cells</text>
<text x="33" y="974.3" font-size="11" textLength="44.5" lengthAdjust="spacingAndGlyphs">CTLA-4 Ig</text>
<text x="33" y="987.4" font-size="11" textLength="26.5" lengthAdjust="spacingAndGlyphs">rhIL-2</text>
<text x="168.2" y="962.1999999999999" font-size="10.5" font-weight="bold" text-anchor="middle">-</text>
<text x="232.4" y="962.1999999999999" font-size="10.5" font-weight="bold" text-anchor="middle">+</text>
<text x="295" y="962.1999999999999" font-size="10.5" font-weight="bold" text-anchor="middle">+</text>
<text x="358.4" y="962.1999999999999" font-size="10.5" font-weight="bold" text-anchor="middle">+</text>
<text x="421" y="962.1999999999999" font-size="10.5" font-weight="bold" text-anchor="middle">+</text>
<text x="168.2" y="974.8" font-size="10.5" font-weight="bold" text-anchor="middle">-</text>
<text x="232.4" y="974.8" font-size="10.5" font-weight="bold" text-anchor="middle">-</text>
<text x="295" y="974.8" font-size="10.5" font-weight="bold" text-anchor="middle">+</text>
<text x="358.4" y="974.8" font-size="10.5" font-weight="bold" text-anchor="middle">-</text>
<text x="421" y="974.8" font-size="10.5" font-weight="bold" text-anchor="middle">+</text>
<text x="168.2" y="987.4" font-size="10.5" font-weight="bold" text-anchor="middle">-</text>
<text x="232.4" y="987.4" font-size="10.5" font-weight="bold" text-anchor="middle">-</text>
<text x="295" y="987.4" font-size="10.5" font-weight="bold" text-anchor="middle">-</text>
<text x="358.4" y="987.4" font-size="10.5" font-weight="bold" text-anchor="middle">+</text>
<text x="421" y="987.4" font-size="10.5" font-weight="bold" text-anchor="middle">+</text>
</g>
<rect x="0.5" y="0.5" width="519" height="1012" fill="none" stroke="#000" stroke-width="1" shape-rendering="crispEdges"/>
</svg>
</body></html>
